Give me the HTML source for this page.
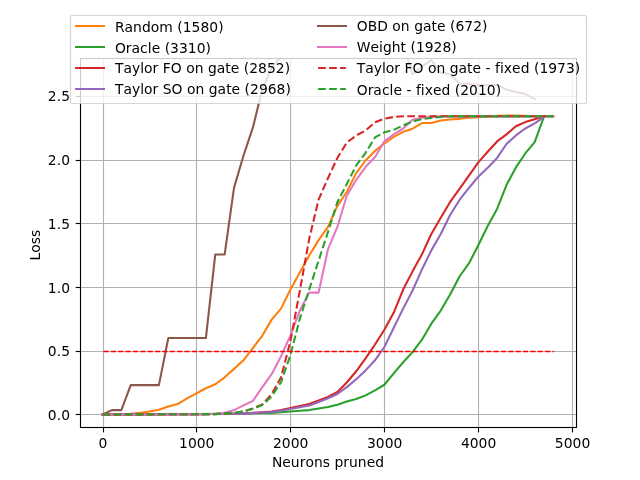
<!DOCTYPE html>
<html><head><meta charset="utf-8"><title>Loss vs neurons pruned</title>
<style>html,body{margin:0;padding:0;background:#fff}svg{display:block}text{letter-spacing:0.03px;font-kerning:none;font-family:"DejaVu Sans","Liberation Sans",sans-serif;font-size:13.89px;fill:#000}</style></head><body>
<svg width="640" height="480" viewBox="0 0 640 480">
<rect width="640" height="480" fill="#fff"/>
<defs><clipPath id="ax"><rect x="80" y="57.6" width="496" height="369.6"/></clipPath></defs>
<g stroke="#b0b0b0" stroke-width="1.11" fill="none"><path d="M103.5 58V427.5"/><path d="M196.5 58V427.5"/><path d="M290.5 58V427.5"/><path d="M384.5 58V427.5"/><path d="M478.5 58V427.5"/><path d="M572.5 58V427.5"/><path d="M80 414.5H576"/><path d="M80 351.5H576"/><path d="M80 287.5H576"/><path d="M80 223.5H576"/><path d="M80 160.5H576"/><path d="M80 96.5H576"/></g>
<g stroke="#000" stroke-width="1.11" fill="none"><path d="M103.5 427.5v4.86"/><path d="M196.5 427.5v4.86"/><path d="M290.5 427.5v4.86"/><path d="M384.5 427.5v4.86"/><path d="M478.5 427.5v4.86"/><path d="M572.5 427.5v4.86"/><path d="M80.5 414.5h-4.86"/><path d="M80.5 351.5h-4.86"/><path d="M80.5 287.5h-4.86"/><path d="M80.5 223.5h-4.86"/><path d="M80.5 160.5h-4.86"/><path d="M80.5 96.5h-4.86"/></g>
<g clip-path="url(#ax)" fill="none" stroke-linejoin="round">
<path d="M102.55 414.50 L111.94 414.37 L121.33 414.12 L130.73 413.74 L140.12 412.86 L149.51 411.48 L158.91 409.84 L168.30 406.44 L177.70 404.04 L187.09 398.37 L196.48 393.33 L205.88 388.29 L215.27 384.26 L224.67 377.33 L234.06 368.89 L243.45 360.32 L252.85 348.04 L262.24 335.76 L271.64 319.63 L281.03 308.62 L290.42 289.42 L299.82 272.40 L309.21 255.50 L318.61 240.14 L328.00 226.96 L337.39 205.86 L346.79 192.00 L356.18 173.10 L365.58 160.50 L374.97 150.90 L384.36 143.48 L393.76 136.82 L403.15 131.83 L412.55 128.69 L421.94 123.06 L431.33 123.06 L440.73 120.44 L450.12 119.54 L459.51 118.84 L468.91 117.75 L478.30 117.24 L487.70 116.47 L497.09 115.70 L506.48 115.44 L515.88 115.44 L525.27 115.70 L534.67 116.21 L544.06 116.21" stroke="#ff7f0e" stroke-width="2.083" stroke-linecap="square"/>
<path d="M102.55 414.50 L149.51 414.37 L196.48 414.12 L243.45 413.49 L271.64 412.86 L290.42 411.48 L299.82 410.72 L309.21 410.09 L318.61 408.58 L328.00 407.07 L337.39 404.80 L346.79 401.40 L356.18 399.00 L365.58 395.35 L374.97 390.31 L384.36 384.76 L393.76 373.30 L403.15 362.21 L412.55 352.13 L421.94 339.72 L431.33 323.72 L440.73 310.54 L450.12 294.54 L459.51 276.49 L468.91 263.44 L478.30 245.26 L487.70 225.93 L497.09 208.88 L506.48 185.07 L515.88 167.43 L525.27 153.46 L534.67 142.07 L544.06 116.34" stroke="#2ca02c" stroke-width="2.083" stroke-linecap="square"/>
<path d="M102.55 414.50 L196.48 414.25 L243.45 413.49 L271.64 411.48 L281.03 409.96 L290.42 408.07 L299.82 406.06 L309.21 404.04 L318.61 400.39 L328.00 396.99 L337.39 391.95 L346.79 382.50 L356.18 371.28 L365.58 358.43 L374.97 344.46 L384.36 329.74 L393.76 312.59 L403.15 289.55 L412.55 271.37 L421.94 254.35 L431.33 234.00 L440.73 217.83 L450.12 201.95 L459.51 188.98 L468.91 175.62 L478.30 162.39 L487.70 151.80 L497.09 141.43 L506.48 134.39 L515.88 126.32 L525.27 122.10 L534.67 119.28 L544.06 116.34" stroke="#d62728" stroke-width="2.083" stroke-linecap="square"/>
<path d="M102.55 414.50 L196.48 414.25 L243.45 413.62 L271.64 411.98 L281.03 410.72 L290.42 409.08 L299.82 407.32 L309.21 405.43 L318.61 402.03 L328.00 398.37 L337.39 393.96 L346.79 387.16 L356.18 379.22 L365.58 370.40 L374.97 360.32 L384.36 347.02 L393.76 327.69 L403.15 308.62 L412.55 290.57 L421.94 269.45 L431.33 250.38 L440.73 234.00 L450.12 214.93 L459.51 199.94 L468.91 187.97 L478.30 176.63 L487.70 167.68 L497.09 157.94 L506.48 143.99 L515.88 135.41 L525.27 128.50 L534.67 123.38 L544.06 116.98" stroke="#9467bd" stroke-width="2.083" stroke-linecap="square"/>
<path d="M102.55 414.50 L111.94 410.09 L121.33 410.09 L130.73 385.14 L140.12 385.14 L149.51 385.14 L158.91 385.14 L168.30 338.06 L177.70 338.06 L187.09 338.06 L196.48 338.06 L205.88 338.06 L215.27 254.48 L224.67 254.48 L234.06 187.60 L243.45 155.74 L252.85 127.70 L262.24 89.46 L271.64 67.80 L281.03 56.33 L290.42 44.86 L403.15 44.86 L412.55 74.17 L421.94 66.52 L431.33 60.15 L440.73 72.89 L450.12 74.17 L459.51 83.73 L468.91 83.73 L478.30 85.00 L487.70 85.00 L497.09 85.00 L506.48 89.46 L515.88 92.01 L525.27 93.92 L534.67 99.15" stroke="#8c564b" stroke-width="2.083" stroke-linecap="square"/>
<path d="M102.55 414.50 L196.48 414.37 L215.27 413.74 L224.67 412.86 L234.06 410.09 L243.45 405.43 L252.85 401.02 L262.24 387.28 L271.64 374.18 L281.03 356.16 L290.42 335.50 L299.82 310.54 L309.21 292.62 L318.61 292.62 L328.00 249.10 L337.39 226.96 L346.79 195.78 L356.18 180.03 L365.58 166.80 L374.97 157.30 L384.36 141.30 L393.76 134.39 L403.15 128.50 L412.55 119.80 L421.94 117.75 L431.33 116.85 L440.73 116.34 L553.45 116.34" stroke="#e377c2" stroke-width="2.083" stroke-linecap="square"/>
<path d="M102.55 414.50 L215.27 414.12 L234.06 412.99 L243.45 411.48 L252.85 408.45 L262.24 404.42 L271.64 394.34 L281.03 377.33 L290.42 341.26 L299.82 290.70 L309.21 238.86 L318.61 199.56 L328.00 178.14 L337.39 157.94 L346.79 142.58 L356.18 135.54 L365.58 130.55 L374.97 122.36 L384.36 118.64 L393.76 116.98 L403.15 116.21 L553.45 116.21" stroke="#d62728" stroke-width="2.083" stroke-dasharray="7.71 3.33"/>
<path d="M102.55 414.50 L215.27 414.12 L234.06 412.99 L243.45 411.48 L252.85 408.83 L262.24 405.05 L271.64 396.36 L281.03 382.24 L290.42 355.28 L299.82 318.60 L309.21 289.55 L318.61 260.62 L328.00 231.95 L337.39 202.08 L346.79 184.06 L356.18 165.54 L365.58 152.82 L374.97 137.46 L384.36 132.34 L393.76 129.91 L403.15 125.43 L412.55 121.46 L421.94 119.16 L431.33 118.00 L440.73 116.98 L450.12 116.34 L553.45 116.34" stroke="#2ca02c" stroke-width="2.083" stroke-dasharray="7.71 3.33"/>
<path d="M103.5 351.5H553.9" stroke="#ff0000" stroke-width="1.39" stroke-dasharray="5.14 2.22"/>
</g>
<rect x="80.5" y="58.5" width="496" height="369" fill="none" stroke="#000" stroke-width="1.11"/>
<text x="102.84" y="448.3" text-anchor="middle">0</text>
<text x="196.78" y="448.3" text-anchor="middle">1000</text>
<text x="290.72" y="448.3" text-anchor="middle">2000</text>
<text x="384.66" y="448.3" text-anchor="middle">3000</text>
<text x="478.60" y="448.3" text-anchor="middle">4000</text>
<text x="572.54" y="448.3" text-anchor="middle">5000</text>
<text x="70" y="419.95" text-anchor="end">0.0</text>
<text x="70" y="356.23" text-anchor="end">0.5</text>
<text x="70" y="292.51" text-anchor="end">1.0</text>
<text x="70" y="228.78" text-anchor="end">1.5</text>
<text x="70" y="165.06" text-anchor="end">2.0</text>
<text x="70" y="101.33" text-anchor="end">2.5</text>
<text x="328" y="467.2" text-anchor="middle">Neurons pruned</text>
<text transform="translate(40.3 245.1) rotate(-90)" text-anchor="middle">Loss</text>
<rect x="70.5" y="15.5" width="516" height="88" rx="1.2" fill="#fff" fill-opacity="0.8" stroke="#ccc" stroke-opacity="0.8" stroke-width="1.2"/>
<path d="M75.00 26.00h30" stroke="#ff7f0e" stroke-width="2" fill="none"/>
<text x="114.90" y="32.00">Random (1580)</text>
<path d="M75.00 47.00h30" stroke="#2ca02c" stroke-width="2" fill="none"/>
<text x="114.90" y="53.00">Oracle (3310)</text>
<path d="M75.00 68.00h30" stroke="#d62728" stroke-width="2" fill="none"/>
<text x="114.90" y="73.25">Taylor FO on gate (2852)</text>
<path d="M75.00 89.00h30" stroke="#9467bd" stroke-width="2" fill="none"/>
<text x="114.90" y="94.25">Taylor SO on gate (2968)</text>
<path d="M317.00 26.00h30" stroke="#8c564b" stroke-width="2" fill="none"/>
<text x="356.70" y="31.00">OBD on gate (672)</text>
<path d="M317.00 47.00h30" stroke="#e377c2" stroke-width="2" fill="none"/>
<text x="356.70" y="52.00">Weight (1928)</text>
<path d="M318.10 68.00h27.78" stroke="#d62728" stroke-width="2" fill="none" stroke-dasharray="7.71 3.33"/>
<text x="356.70" y="73.25">Taylor FO on gate - fixed (1973)</text>
<path d="M318.10 89.00h27.78" stroke="#2ca02c" stroke-width="2" fill="none" stroke-dasharray="7.71 3.33"/>
<text x="356.70" y="95.00">Oracle - fixed (2010)</text>
</svg></body></html>
